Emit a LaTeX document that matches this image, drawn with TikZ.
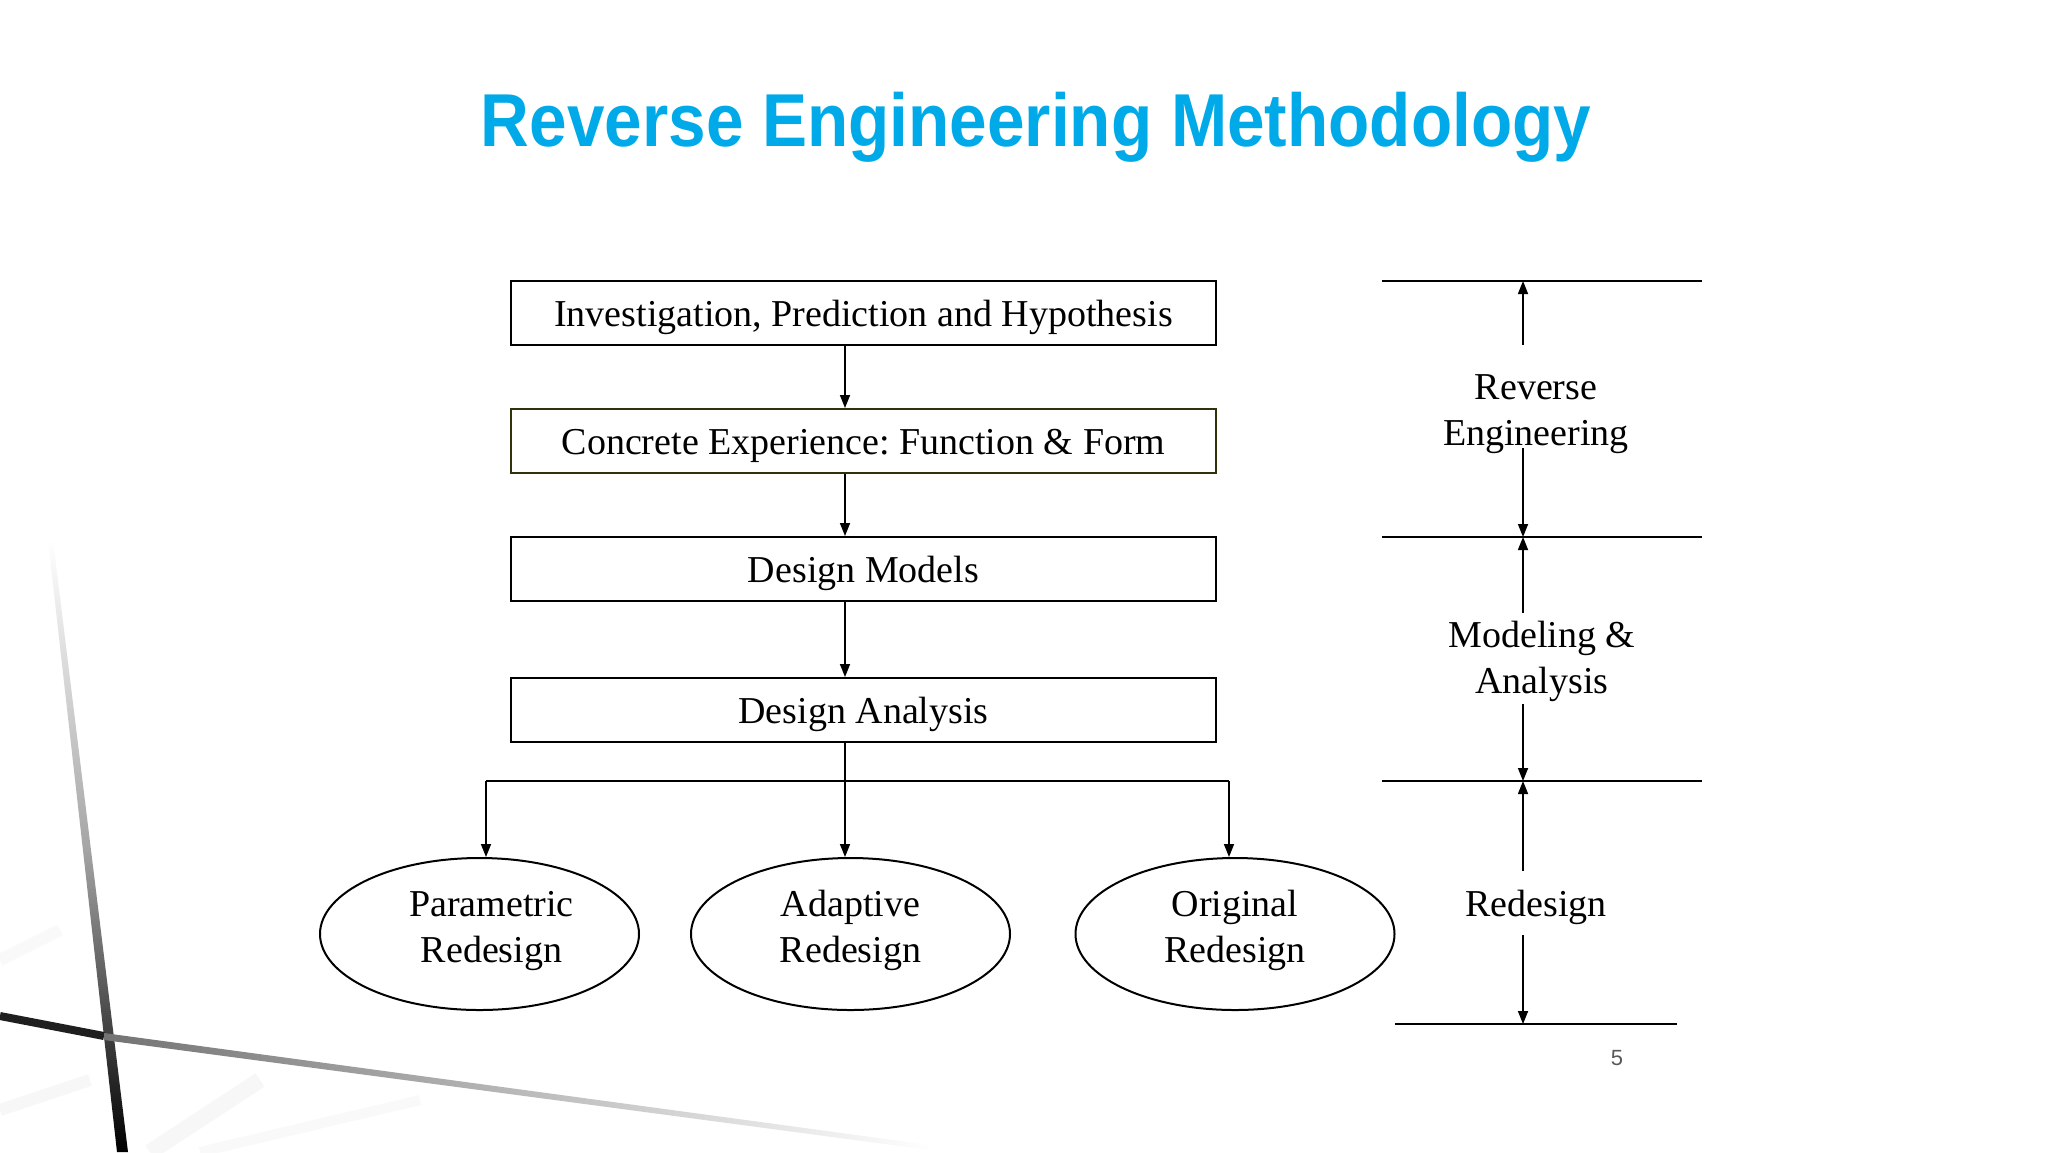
\documentclass[tikz,border=0pt]{standalone}
\usepackage{graphicx}
\usepackage{fontspec}
\setmainfont{Liberation Serif}
\newfontfamily\titlefont{Liberation Sans}
\usetikzlibrary{arrows.meta,shapes.geometric}
\definecolor{titlecyan}{RGB}{0,170,232}
\definecolor{olivedark}{RGB}{50,50,10}
\frenchspacing
\begin{document}
\begin{tikzpicture}[x=0.5pt,y=-0.5pt,
  txt/.style={font=\fontsize{19}{23}\selectfont,align=center},
  stepbox/.style={txt,draw,line width=1pt,minimum width=352.5pt,minimum height=32pt,inner sep=0pt,text height=15.5pt,text depth=2.5pt},
  oval/.style={txt,draw,ellipse,line width=1pt,minimum width=159.5pt,minimum height=76pt,inner sep=0pt},
  conn/.style={line width=0.8pt},
  arr/.style={conn,-{Triangle[length=6.5pt,width=5pt]}},
  rule/.style={line width=1.1pt}
]
\useasboundingbox (0,0) rectangle (2048,1152);
\fill[white] (0,0) rectangle (2048,1152);
% background decoration
\draw[black!5,line width=6pt,opacity=0.6] (0,1110) -- (90,1080);
\draw[black!5,line width=8pt,opacity=0.6] (150,1152) -- (260,1080);
\draw[black!4,line width=6pt,opacity=0.6] (0,960) -- (60,930);
\draw[black!4,line width=5pt,opacity=0.6] (200,1152) -- (420,1100);
\shade[top color=white,bottom color=black,middle color=black!35] (48,540) -- (53,540) -- (128,1152) -- (117,1152) -- cycle;
\draw[black!88,line width=4pt] (0,1016) -- (104,1036);
\shade[left color=black!55,right color=white] (104,1033) -- (930,1145) -- (930,1150) -- (104,1040) -- cycle;
% title
\node[font=\titlefont\bfseries\fontsize{37.5}{40}\selectfont,text=titlecyan,anchor=base] (title) at (1036,146) {\scalebox{0.9}[1]{Reverse Engineering Methodology}};
% boxes
\node[stepbox] (b1) at (863.5,313) {Investigation, Prediction and Hypothesis};
\node[stepbox,draw=olivedark] (b2) at (863.5,441) {Concrete Experience: Function \& Form};
\node[stepbox] (b3) at (863.5,569) {Design Models};
\node[stepbox] (b4) at (863.5,710) {Design Analysis};
% ellipses
\node[oval] (e1) at (479.5,934) {\raisebox{2pt}[\height][\depth]{\begin{tabular}{@{\hspace{12pt}}c@{}}Parametric\\Redesign\end{tabular}}};
\node[oval] (e2) at (850.5,934) {\raisebox{2pt}[\height][\depth]{\begin{tabular}{@{}c@{}}Adaptive\\Redesign\end{tabular}}};
\node[oval] (e3) at (1235,934) {\raisebox{2pt}[\height][\depth]{\begin{tabular}{@{}c@{}}Original\\Redesign\end{tabular}}};
% connectors
\coordinate (ax) at (845,0);
\draw[arr] (b1.south -| ax) -- (b2.north -| ax);
\draw[arr] (b2.south -| ax) -- (b3.north -| ax);
\draw[arr] (b3.south -| ax) -- (b4.north -| ax);
\coordinate (jl) at (486,781);
\coordinate (jm) at (845,781);
\coordinate (jr) at (1229,781);
\draw[conn] (b4.south -| ax) -- (jm);
\draw[conn] (jl) -- (jr);
\draw[arr] (jl) -- (jl |- e1.north);
\draw[arr] (jm) -- (jm |- e2.north);
\draw[arr] (jr) -- (jr |- e3.north);
% right scale
\coordinate (h1l) at (1382,281); \coordinate (h1r) at (1702,281);
\coordinate (h2l) at (1382,537); \coordinate (h2r) at (1702,537);
\coordinate (h3l) at (1382,781); \coordinate (h3r) at (1702,781);
\coordinate (h4l) at (1395,1024); \coordinate (h4r) at (1677,1024);
\draw[rule] (h1l) -- (h1r);
\draw[rule] (h2l) -- (h2r);
\draw[rule] (h3l) -- (h3r);
\draw[rule] (h4l) -- (h4r);
\node[txt] (l1) at (1536,414) {Reverse\\Engineering};
\node[txt] (l2) at (1542,661) {Modeling \&\\Analysis};
\node[txt] (l3) at (1536,907) {Redesign};
\coordinate (t1) at (1523,281);
\coordinate (t2) at (1523,537);
\coordinate (t3) at (1523,781);
\coordinate (t4) at (1523,1024);
\coordinate (s1a) at (1523,345); \coordinate (s1b) at (1523,448);
\coordinate (s2a) at (1523,613); \coordinate (s2b) at (1523,704);
\coordinate (s3a) at (1523,871); \coordinate (s3b) at (1523,935);
\draw[arr] (s1a) -- (t1);
\draw[arr] (s1b) -- (t2);
\draw[arr] (s2a) -- (t2);
\draw[arr] (s2b) -- (t3);
\draw[arr] (s3a) -- (t3);
\draw[arr] (s3b) -- (t4);
% page number
\node[font=\titlefont\fontsize{11}{13}\selectfont,text=black!65] (pg) at (1617,1058) {5};
\end{tikzpicture}
\end{document}
